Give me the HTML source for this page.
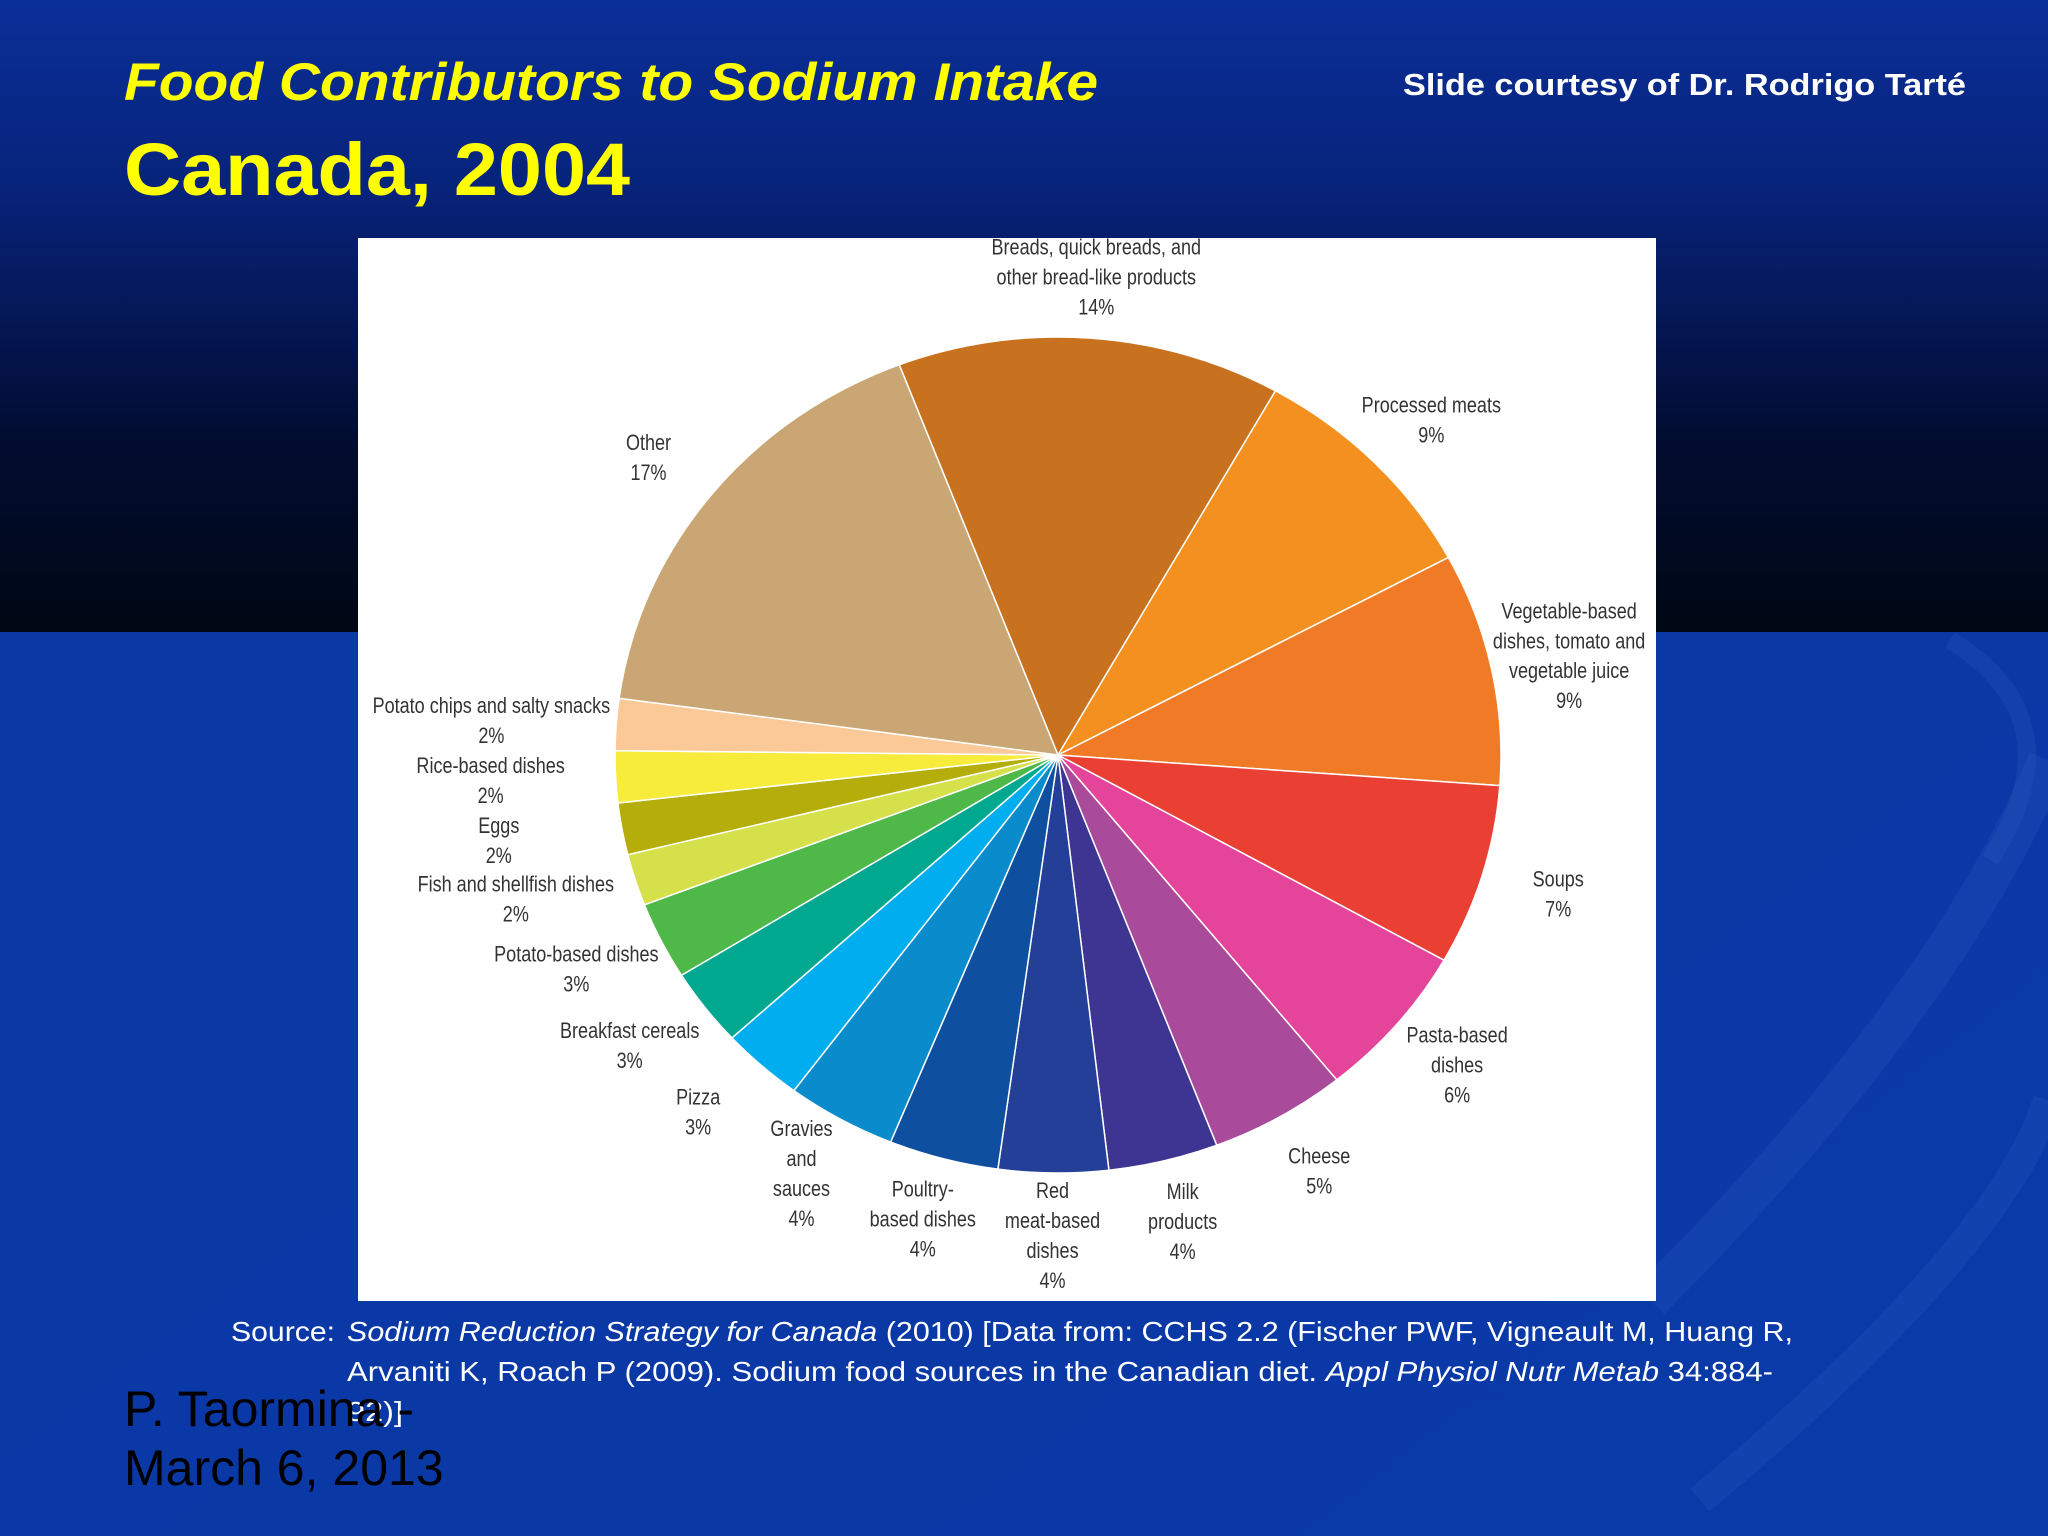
<!DOCTYPE html>
<html><head><meta charset="utf-8"><style>
html,body{margin:0;padding:0;width:2048px;height:1536px;overflow:hidden;background:#0a35a0}
svg{display:block}
</style></head><body>
<svg id="slide" width="2048" height="1536" viewBox="0 0 2048 1536" xmlns="http://www.w3.org/2000/svg">
<defs>
<linearGradient id="topg" x1="0" y1="0" x2="0" y2="1">
<stop offset="0" stop-color="#0a2f98"/><stop offset="0.3" stop-color="#07237a"/><stop offset="0.7" stop-color="#020c30"/><stop offset="1" stop-color="#000814"/>
</linearGradient>
<linearGradient id="botg" x1="0" y1="0" x2="1" y2="1">
<stop offset="0" stop-color="#0a37a3"/><stop offset="1" stop-color="#0a3aa8"/>
</linearGradient>
</defs>
<rect x="0" y="0" width="2048" height="1536" fill="url(#botg)"/>
<g fill="none" stroke="#2a5cc0" stroke-opacity="0.25">
<path d="M1650 1300 Q1950 1000 2048 760" stroke-width="40"/>
<path d="M1700 1500 Q2000 1250 2048 1100" stroke-width="30"/>
<path d="M1950 640 Q2080 720 1990 860" stroke-width="18"/>
</g>
<rect x="0" y="0" width="2048" height="632" fill="url(#topg)"/>
<text x="124" y="100" font-family="Liberation Sans, sans-serif" font-weight="bold" font-style="italic" font-size="53" fill="#ffff00" textLength="974" lengthAdjust="spacingAndGlyphs">Food Contributors to Sodium Intake</text>
<text x="124" y="195" font-family="Liberation Sans, sans-serif" font-weight="bold" font-size="74" fill="#ffff00" textLength="506" lengthAdjust="spacingAndGlyphs">Canada, 2004</text>
<text x="1966" y="95" text-anchor="end" font-family="Liberation Sans, sans-serif" font-weight="bold" font-size="31" fill="#ffffff" textLength="563" lengthAdjust="spacingAndGlyphs">Slide courtesy of Dr. Rodrigo Tarté</text>
<rect x="358" y="238" width="1298" height="1063" fill="#ffffff"/>
<g id="pie"></g>
<g id="labels" font-family="Liberation Sans, sans-serif" font-size="22" fill="#333333" text-anchor="middle"></g>
<g font-family="Liberation Sans, sans-serif" font-size="28" fill="#ffffff">
<text x="231" y="1341" textLength="104" lengthAdjust="spacingAndGlyphs">Source:</text>
<text x="347" y="1341" textLength="1446" lengthAdjust="spacingAndGlyphs"><tspan font-style="italic">Sodium Reduction Strategy for Canada</tspan> (2010) [Data from: CCHS 2.2 (Fischer PWF, Vigneault M, Huang R,</text>
<text x="347" y="1381" textLength="1426" lengthAdjust="spacingAndGlyphs">Arvaniti K, Roach P (2009). Sodium food sources in the Canadian diet. <tspan font-style="italic">Appl Physiol Nutr Metab</tspan> 34:884-</text>
<text x="347" y="1421" textLength="56" lengthAdjust="spacingAndGlyphs">92)]</text>
</g>
<g font-family="Liberation Sans, sans-serif" font-size="50" fill="#000000">
<text x="124" y="1426">P. Taormina -</text>
<text x="124" y="1485">March 6, 2013</text>
</g>
</svg>
<script>
const categories = ["Breads, quick breads, and|other bread-like products","Processed meats","Vegetable-based|dishes, tomato and|vegetable juice","Soups","Pasta-based|dishes","Cheese","Milk|products","Red|meat-based|dishes","Poultry-|based dishes","Gravies|and|sauces","Pizza","Breakfast cereals","Potato-based dishes","Fish and shellfish dishes","Eggs","Rice-based dishes","Potato chips and salty snacks","Other"];
const values = [14,9,9,7,6,5,4,4,4,4,3,3,3,2,2,2,2,17];
const colors = ["#c8711e","#f39020","#f07a25","#ea4034","#e4449a","#a94b9a","#3d3591","#233f97","#0e4fa0","#0a8ccc","#00aeef","#00a88f","#4eb848","#d6e04a","#b5ad0a","#f7ec3c","#fbc898","#cba675"];
const NS="http://www.w3.org/2000/svg";
const cx=1058, cy=755, rx=443, ry=418, startDeg=-21;
const total=values.reduce((a,b)=>a+b,0);
function pt(deg,fx,fy){const a=deg*Math.PI/180;return [cx+fx*Math.sin(a), cy-fy*Math.cos(a)];}
const pie=document.getElementById('pie'), lab=document.getElementById('labels');
let acc=0;
values.forEach((v,i)=>{
  const a0=startDeg+acc/total*360; acc+=v; const a1=startDeg+acc/total*360;
  const p0=pt(a0,rx,ry), p1=pt(a1,rx,ry);
  const large=(a1-a0)>180?1:0;
  const path=document.createElementNS(NS,'path');
  path.setAttribute('d',`M${cx},${cy} L${p0[0]},${p0[1]} A${rx},${ry} 0 ${large} 1 ${p1[0]},${p1[1]} Z`);
  path.setAttribute('fill',colors[i]);
  path.setAttribute('stroke','#ffffff');
  path.setAttribute('stroke-width','1.5');
  
  
  pie.appendChild(path);
  const mid=(a0+a1)/2;
  const lines=categories[i].split('|').concat([v+'%']);
  const f=1.1;
  const xf = v<=2 ? 1.12 : (v===3 ? 1.06 : 1.03);
  const lp=pt(mid,(rx*f+20)*xf,ry*f+20);
  const g=document.createElementNS(NS,'text');
  
  
  const lh=30, y0=-(lines.length-1)*lh/2+8;
  g.setAttribute('transform',`translate(${lp[0]},${lp[1]}) scale(0.82,1)`);
  lines.forEach((t,k)=>{const ts=document.createElementNS(NS,'tspan');ts.setAttribute('x',0);ts.setAttribute('y',y0+k*lh);ts.textContent=t;g.appendChild(ts);});
  lab.appendChild(g);
});
</script>
</body></html>
